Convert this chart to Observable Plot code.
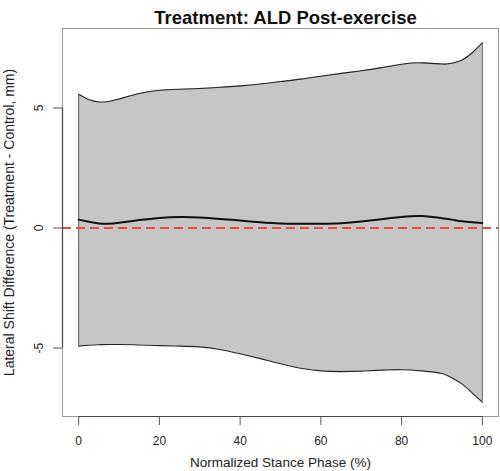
<!DOCTYPE html>
<html>
<head>
<meta charset="utf-8">
<script src="https://cdn.jsdelivr.net/npm/d3@7"></script>
<script src="https://cdn.jsdelivr.net/npm/@observablehq/plot@0.6"></script>
<style>
  html, body { margin: 0; padding: 0; background: white; }
</style>
</head>
<body>
<div id="chart"></div>
<script>
const titleText = "Treatment: ALD Post-exercise";
const xLabel = "Normalized Stance Phase (%)";
const yLabel = "Lateral Shift Difference (Treatment - Control, mm)";

const phase = [0, 2.5, 5, 7.5, 10, 15, 20, 25, 30, 35, 40, 45, 50, 55, 60, 65, 70, 75, 80, 85, 90, 92.5, 95, 97.5, 100];
const upper = [5.57, 5.35, 5.25, 5.27, 5.37, 5.6, 5.74, 5.78, 5.81, 5.86, 5.92, 6.0, 6.1, 6.2, 6.32, 6.44, 6.55, 6.68, 6.82, 6.88, 6.83, 6.86, 7.0, 7.3, 7.71];
const meanDiff = [0.35, 0.26, 0.19, 0.18, 0.22, 0.33, 0.42, 0.46, 0.44, 0.38, 0.31, 0.24, 0.19, 0.18, 0.18, 0.2, 0.27, 0.37, 0.46, 0.5, 0.41, 0.35, 0.28, 0.24, 0.21];
const lower = [-4.92, -4.88, -4.86, -4.85, -4.85, -4.87, -4.9, -4.92, -4.95, -5.06, -5.24, -5.44, -5.65, -5.84, -5.95, -5.98, -5.96, -5.92, -5.9, -5.95, -6.06, -6.25, -6.5, -6.88, -7.25];

const xTicks = [0, 20, 40, 60, 80, 100];
const yTicks = [-5, 0, 5];
const xDomain = [-4, 104];
const yDomain = [-7.85, 8.31];

const rows = phase.map((x, i) => ({x, upper: upper[i], mean: meanDiff[i], lower: lower[i]}));
const ends = [rows[0], rows[rows.length - 1]];

const chart = Plot.plot({
  width: 500,
  height: 471,
  marginLeft: 62,
  marginRight: 2,
  marginTop: 28,
  marginBottom: 55,
  x: {domain: xDomain},
  y: {domain: yDomain},
  style: {fontFamily: "'Liberation Sans', Arial, sans-serif", background: "white", color: "#222", overflow: "visible"},
  marks: [
    Plot.areaY(rows, {x: "x", y1: "lower", y2: "upper", fill: "#c6c6c6", curve: "natural"}),
    Plot.lineY(rows, {x: "x", y: "upper", stroke: "#222", strokeWidth: 1.1, curve: "natural"}),
    Plot.lineY(rows, {x: "x", y: "lower", stroke: "#222", strokeWidth: 1.1, curve: "natural"}),
    Plot.ruleX(ends, {x: "x", y1: "lower", y2: "upper", stroke: "#555", strokeWidth: 0.9}),
    Plot.lineY(rows, {x: "x", y: "mean", stroke: "#111", strokeWidth: 2, curve: "natural"}),
    Plot.ruleY([0], {stroke: "#f04a38", strokeWidth: 2, strokeDasharray: "9,5"}),
    Plot.frame({stroke: "#999", strokeWidth: 1}),
    Plot.ruleY([yDomain[0]], {x1: xTicks[0], x2: xTicks[xTicks.length - 1], stroke: "#444", strokeWidth: 1.2}),
    Plot.ruleX([xDomain[0]], {y1: yTicks[0], y2: yTicks[yTicks.length - 1], stroke: "#444", strokeWidth: 1.2}),
    Plot.axisX({ticks: xTicks, tickSize: 9, tickPadding: 11, fontSize: 12, label: null, tickFormat: d => String(d), stroke: "#555"}),
    Plot.axisY({ticks: yTicks, tickSize: 9, label: null, tickFormat: () => "", stroke: "#555"}),
    Plot.text(yTicks, {x: xDomain[0], y: d => d, text: d => String(d), rotate: -90, dx: -23, fontSize: 12, fill: "#222"}),
    Plot.text([titleText], {frameAnchor: "top", dx: 5, dy: -18, fontSize: 18.5, fontWeight: "bold", fill: "#111"}),
    Plot.text([yLabel], {frameAnchor: "left", textAnchor: "middle", rotate: -90, dx: -53, fontSize: 14, fill: "#222"}),
    Plot.text([xLabel], {frameAnchor: "bottom", dy: 41, lineAnchor: "top", fontSize: 13.5, fill: "#222"})
  ]
});
document.getElementById("chart").appendChild(chart);
</script>
</body>
</html>
